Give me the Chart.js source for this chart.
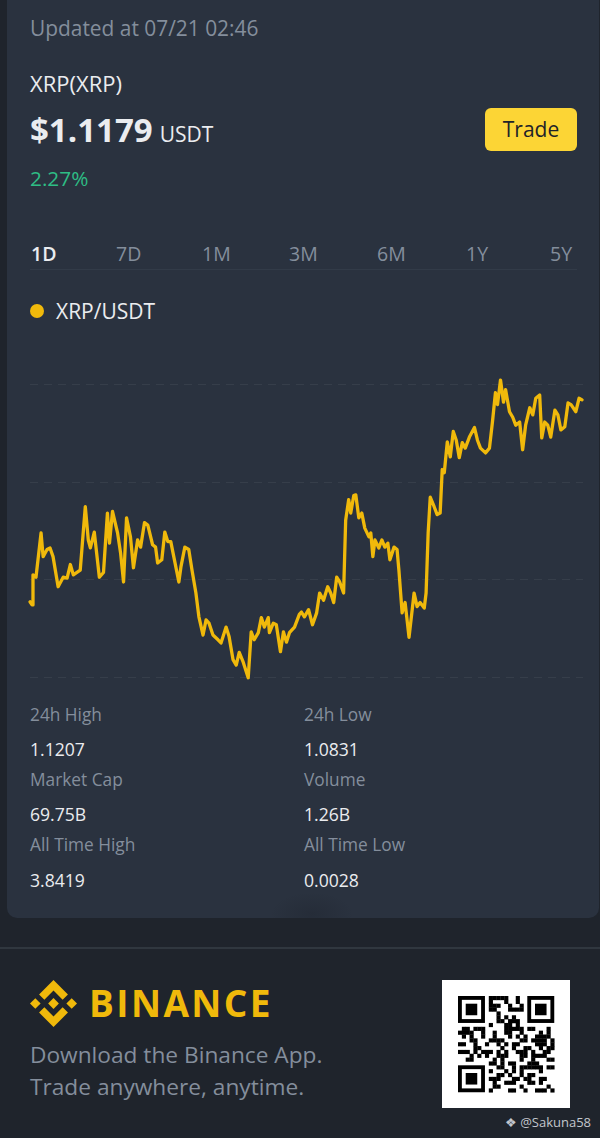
<!DOCTYPE html>
<html lang="en">
<head>
    <meta charset="UTF-8">
    <title>XRP/USDT 1D</title>
    <style>
        body {
            margin: 0;
            width: 600px;
            height: 1138px;
            overflow: hidden;
            background: #1f242c;
            font-family: "Open Sans", Arial, sans-serif;
            position: relative;
        }

        .abs { position: absolute; white-space: nowrap; line-height: 24px; }

        .card {
            position: absolute;
            left: 7px;
            top: -20px;
            width: 592px;
            height: 938px;
            background: #2a323f;
            border-radius: 10px;
            overflow: hidden;
        }

        .handle {
            position: absolute;
            left: 263px;
            top: 912px;
            width: 84px;
            height: 44px;
            border-radius: 50%;
            background: radial-gradient(ellipse at center, rgba(20,24,32,0.22), rgba(20,24,32,0) 70%);
        }

        .muted { color: #848e9c; }
        .light { color: #eaecef; }

        .trade {
            position: absolute;
            left: 485px;
            top: 108px;
            width: 92px;
            height: 43px;
            line-height: 43px;
            text-align: center;
            background: #fcd535;
            border-radius: 6px;
            color: #1e2329;
            font-size: 21px;
        }

        .tab { position: absolute; top: 242px; font-size: 19.5px; color: #848e9c; }
        .tab.on { color: #eaecef; font-weight: 600; }

        .chart-box {
            position: absolute;
            left: 26px;
            top: 374px;
            width: 561px;
            height: 313px;
        }

        .label { font-size: 17.3px; color: #848e9c; }
        .value { font-size: 17.6px; color: #eaecef; }
        .promo { font-size: 22.7px; color: #848e9c; line-height: 28px; }
    </style>
    <script src="https://cdn.jsdelivr.net/npm/chart.js"></script>
</head>
<body>
    <div class="card"><div class="handle"></div></div>

    <div class="abs muted" style="left:30px; top:16px; font-size:20.9px;">Updated at 07/21 02:46</div>
    <div class="abs light" style="left:30px; top:71px; font-size:22px;">XRP(XRP)</div>
    <div class="abs light" style="left:30px; top:112px; line-height:36px;">
        <span style="font-size:33px; font-weight:700;">$1.1179</span><span style="font-size:21px; margin-left:7px;">USDT</span>
    </div>
    <div class="trade">Trade</div>
    <div class="abs" style="left:30px; top:166px; font-size:20.8px; color:#2ebd85;">2.27%</div>

    <span class="abs tab on" style="left:31px;">1D</span>
    <span class="abs tab" style="left:116px;">7D</span>
    <span class="abs tab" style="left:202px;">1M</span>
    <span class="abs tab" style="left:289px;">3M</span>
    <span class="abs tab" style="left:377px;">6M</span>
    <span class="abs tab" style="left:466px;">1Y</span>
    <span class="abs tab" style="left:550px;">5Y</span>
    <div class="abs" style="left:30px; top:269px; width:547px; height:1px; background:#323b48;"></div>

    <div class="abs" style="left:30px; top:304px; width:14px; height:14px; border-radius:50%; background:#f0b90b;"></div>
    <div class="abs light" style="left:56px; top:299px; font-size:21px;">XRP/USDT</div>

    <div class="chart-box"><canvas id="priceChart"></canvas></div>

    <div class="abs label" style="left:30px; top:703px;">24h High</div>
    <div class="abs value" style="left:30px; top:737px;">1.1207</div>
    <div class="abs label" style="left:304px; top:703px;">24h Low</div>
    <div class="abs value" style="left:304px; top:737px;">1.0831</div>
    <div class="abs label" style="left:30px; top:768px;">Market Cap</div>
    <div class="abs value" style="left:30px; top:802px;">69.75B</div>
    <div class="abs label" style="left:304px; top:768px;">Volume</div>
    <div class="abs value" style="left:304px; top:802px;">1.26B</div>
    <div class="abs label" style="left:30px; top:833px;">All Time High</div>
    <div class="abs value" style="left:30px; top:868px;">3.8419</div>
    <div class="abs label" style="left:304px; top:833px;">All Time Low</div>
    <div class="abs value" style="left:304px; top:868px;">0.0028</div>

    <div class="abs" style="left:0; top:947px; width:600px; height:2px; background:#30373f;"></div>

    <svg class="abs" style="left:30px; top:980px;" width="47" height="47" viewBox="0 0 126.61 126.61">
        <g fill="#f0b90b">
            <path d="M38.73,53.2l24.59-24.58,24.6,24.6,14.3-14.31L63.32,0,24.43,38.9Z"/>
            <path d="M0,63.31l14.3-14.31,14.31,14.31-14.31,14.3Z"/>
            <path d="M38.73,73.41,63.32,98l24.6-24.6,14.31,14.29L63.32,126.61,24.41,87.7Z"/>
            <path d="M98,63.31l14.3-14.31,14.31,14.3-14.31,14.32Z"/>
            <path d="M77.83,63.3,63.32,48.78,48.81,63.29,63.32,77.8Z"/>
        </g>
    </svg>
    <div class="abs" style="left:89px; top:983px; line-height:40px; font-size:37px; font-weight:700; letter-spacing:2.4px; color:#f0b90b;">BINANCE</div>
    <div class="abs promo" style="left:30px; top:1041px;">Download the Binance App.</div>
    <div class="abs promo" style="left:30px; top:1073px;">Trade anywhere, anytime.</div>

    <canvas id="qr" class="abs" style="left:442px; top:980px;" width="128" height="128"></canvas>
    <div class="abs" style="right:9px; top:1112px; line-height:20px; font-size:13px; color:#c3c7cd;">&#10070; @Sakuna58</div>

    <script>
        // 1D price series, time in hours since the start of the window
        const hours = [
            0, 0.09, 0.13, 0.26, 0.48, 0.57, 0.74, 0.87, 1.00, 1.22,
            1.44, 1.61, 1.75, 1.88, 2.18, 2.40, 2.53, 2.62, 2.79, 3.01,
            3.19, 3.36, 3.45, 3.58, 3.80, 3.93, 4.06, 4.19, 4.36, 4.49,
            4.67, 4.80, 4.97, 5.11, 5.32, 5.45, 5.54, 5.72, 5.85, 5.98,
            6.11, 6.24, 6.46, 6.55, 6.72, 6.89, 7.03, 7.20, 7.33, 7.51,
            7.64, 7.77, 7.94, 8.16, 8.29, 8.51, 8.64, 8.81, 8.95, 9.08,
            9.25, 9.47, 9.60, 9.73, 9.91, 10.04, 10.17, 10.34, 10.39, 10.56,
            10.69, 10.87, 11.00, 11.13, 11.26, 11.48, 11.69, 11.78, 11.91, 12.09,
            12.26, 12.44, 12.57, 12.74, 12.92, 13.05, 13.18, 13.31, 13.44, 13.61,
            13.70, 13.83, 13.92, 14.05, 14.14, 14.27, 14.40, 14.53, 14.71, 14.79,
            14.88, 14.97, 15.14, 15.27, 15.40, 15.53, 15.62, 15.80, 15.93, 16.01,
            16.15, 16.28, 16.45, 16.67, 16.80, 16.93, 17.11, 17.19, 17.28, 17.37,
            17.54, 17.67, 17.80, 17.89, 17.98, 18.11, 18.24, 18.37, 18.50, 18.63,
            18.76, 18.89, 19.07, 19.29, 19.42, 19.55, 19.77, 19.94, 20.07, 20.20,
            20.29, 20.42, 20.55, 20.64, 20.81, 20.95, 21.08, 21.25, 21.38, 21.51,
            21.69, 21.82, 21.95, 22.12, 22.21, 22.34, 22.47, 22.60, 22.78, 22.91,
            23.04, 23.21, 23.35, 23.48, 23.69, 23.83, 23.96
        ];

        const prices = [
            1.0927, 1.0923, 1.0961, 1.0958, 1.1014, 1.0984, 1.0993, 1.0995, 1.0984, 1.0946,
            1.0958, 1.0957, 1.0974, 1.0961, 1.0967, 1.1047, 1.1005, 1.0995, 1.1015, 1.0958,
            1.0964, 1.1039, 1.1001, 1.1041, 1.1014, 1.0989, 1.0952, 1.1033, 1.1009, 1.0970,
            1.1005, 1.0996, 1.1027, 1.1024, 1.0999, 1.0996, 1.0976, 1.0980, 1.1015, 1.1003,
            1.1003, 1.0984, 1.0952, 1.0971, 1.0996, 1.0993, 1.0967, 1.0938, 1.0908, 1.0885,
            1.0904, 1.0900, 1.0885, 1.0879, 1.0875, 1.0895, 1.0883, 1.0854, 1.0847, 1.0863,
            1.0851, 1.0831, 1.0889, 1.0879, 1.0888, 1.0907, 1.0895, 1.0907, 1.0888, 1.0900,
            1.0898, 1.0864, 1.0889, 1.0876, 1.0888, 1.0895, 1.0911, 1.0914, 1.0908, 1.0917,
            1.0898, 1.0913, 1.0938, 1.0929, 1.0946, 1.0938, 1.0926, 1.0958, 1.0952, 1.0938,
            1.1030, 1.1056, 1.1039, 1.1061, 1.1062, 1.1033, 1.1039, 1.1020, 1.1009, 1.1014,
            1.0984, 1.1005, 1.0995, 1.1005, 1.0996, 1.1001, 1.0980, 1.0996, 1.0993, 1.0967,
            1.0913, 1.0926, 1.0882, 1.0938, 1.0921, 1.0926, 1.0919, 1.0938, 1.1014, 1.1059,
            1.1047, 1.1037, 1.1039, 1.1094, 1.1090, 1.1129, 1.1110, 1.1142, 1.1131, 1.1109,
            1.1128, 1.1121, 1.1135, 1.1147, 1.1131, 1.1121, 1.1115, 1.1121, 1.1154, 1.1191,
            1.1176, 1.1207, 1.1179, 1.1195, 1.1167, 1.1160, 1.1150, 1.1154, 1.1119, 1.1150,
            1.1172, 1.1163, 1.1184, 1.1188, 1.1134, 1.1154, 1.1150, 1.1135, 1.1169, 1.1163,
            1.1144, 1.1148, 1.1178, 1.1176, 1.1167, 1.1184, 1.1182
        ];

        // horizontal dashed guide lines
        const gridValues = [1.0832, 1.0955, 1.1078, 1.1202];

        const ctx = document.getElementById('priceChart').getContext('2d');
        new Chart(ctx, {
            type: 'line',
            data: {
                datasets: [{
                    label: 'XRP/USDT',
                    data: hours.map((h, i) => ({ x: h, y: prices[i] })),
                    borderColor: '#f0b90b',
                    borderWidth: 3.3,
                    borderJoinStyle: 'round',
                    borderCapStyle: 'round',
                    pointRadius: 0,
                    tension: 0,
                    clip: false
                }]
            },
            options: {
                responsive: true,
                maintainAspectRatio: false,
                animation: false,
                layout: { padding: { left: 4, right: 4, top: 10, bottom: 10 } },
                plugins: {
                    legend: { display: false },
                    tooltip: { enabled: false }
                },
                scales: {
                    x: { type: 'linear', min: 0, max: 24, display: false },
                    y: {
                        min: gridValues[0],
                        max: gridValues[gridValues.length - 1],
                        afterBuildTicks: axis => {
                            axis.ticks = gridValues.map(v => ({ value: v }));
                        },
                        ticks: { display: false },
                        border: { display: false, dash: [8, 6] },
                        grid: { color: 'rgba(255,255,255,0.06)', drawTicks: false, tickLength: 0 }
                    }
                }
            }
        });

        // QR-style badge in the footer
        const qr = document.getElementById('qr').getContext('2d');
        qr.fillStyle = '#fff';
        qr.fillRect(0, 0, 128, 128);
        const n = 25, m = 3.85, off = 16;
        qr.fillStyle = '#000';
        function finder(cx, cy) {
            qr.fillRect(off + cx * m, off + cy * m, 7 * m, 7 * m);
            qr.fillStyle = '#fff';
            qr.fillRect(off + (cx + 1) * m, off + (cy + 1) * m, 5 * m, 5 * m);
            qr.fillStyle = '#000';
            qr.fillRect(off + (cx + 2) * m, off + (cy + 2) * m, 3 * m, 3 * m);
        }
        for (let y = 0; y < n; y++) {
            for (let x = 0; x < n; x++) {
                const inFinder = (x < 8 && y < 8) || (x > n - 9 && y < 8) || (x < 8 && y > n - 9);
                if (inFinder) continue;
                if (((x * 7 + y * 11) ^ (x * y + 3)) % 3 === 0 || (x + y * 3) % 7 === 1) {
                    qr.fillRect(off + x * m, off + y * m, m + 0.3, m + 0.3);
                }
            }
        }
        finder(0, 0);
        finder(n - 7, 0);
        finder(0, n - 7);
    </script>
</body>
</html>
